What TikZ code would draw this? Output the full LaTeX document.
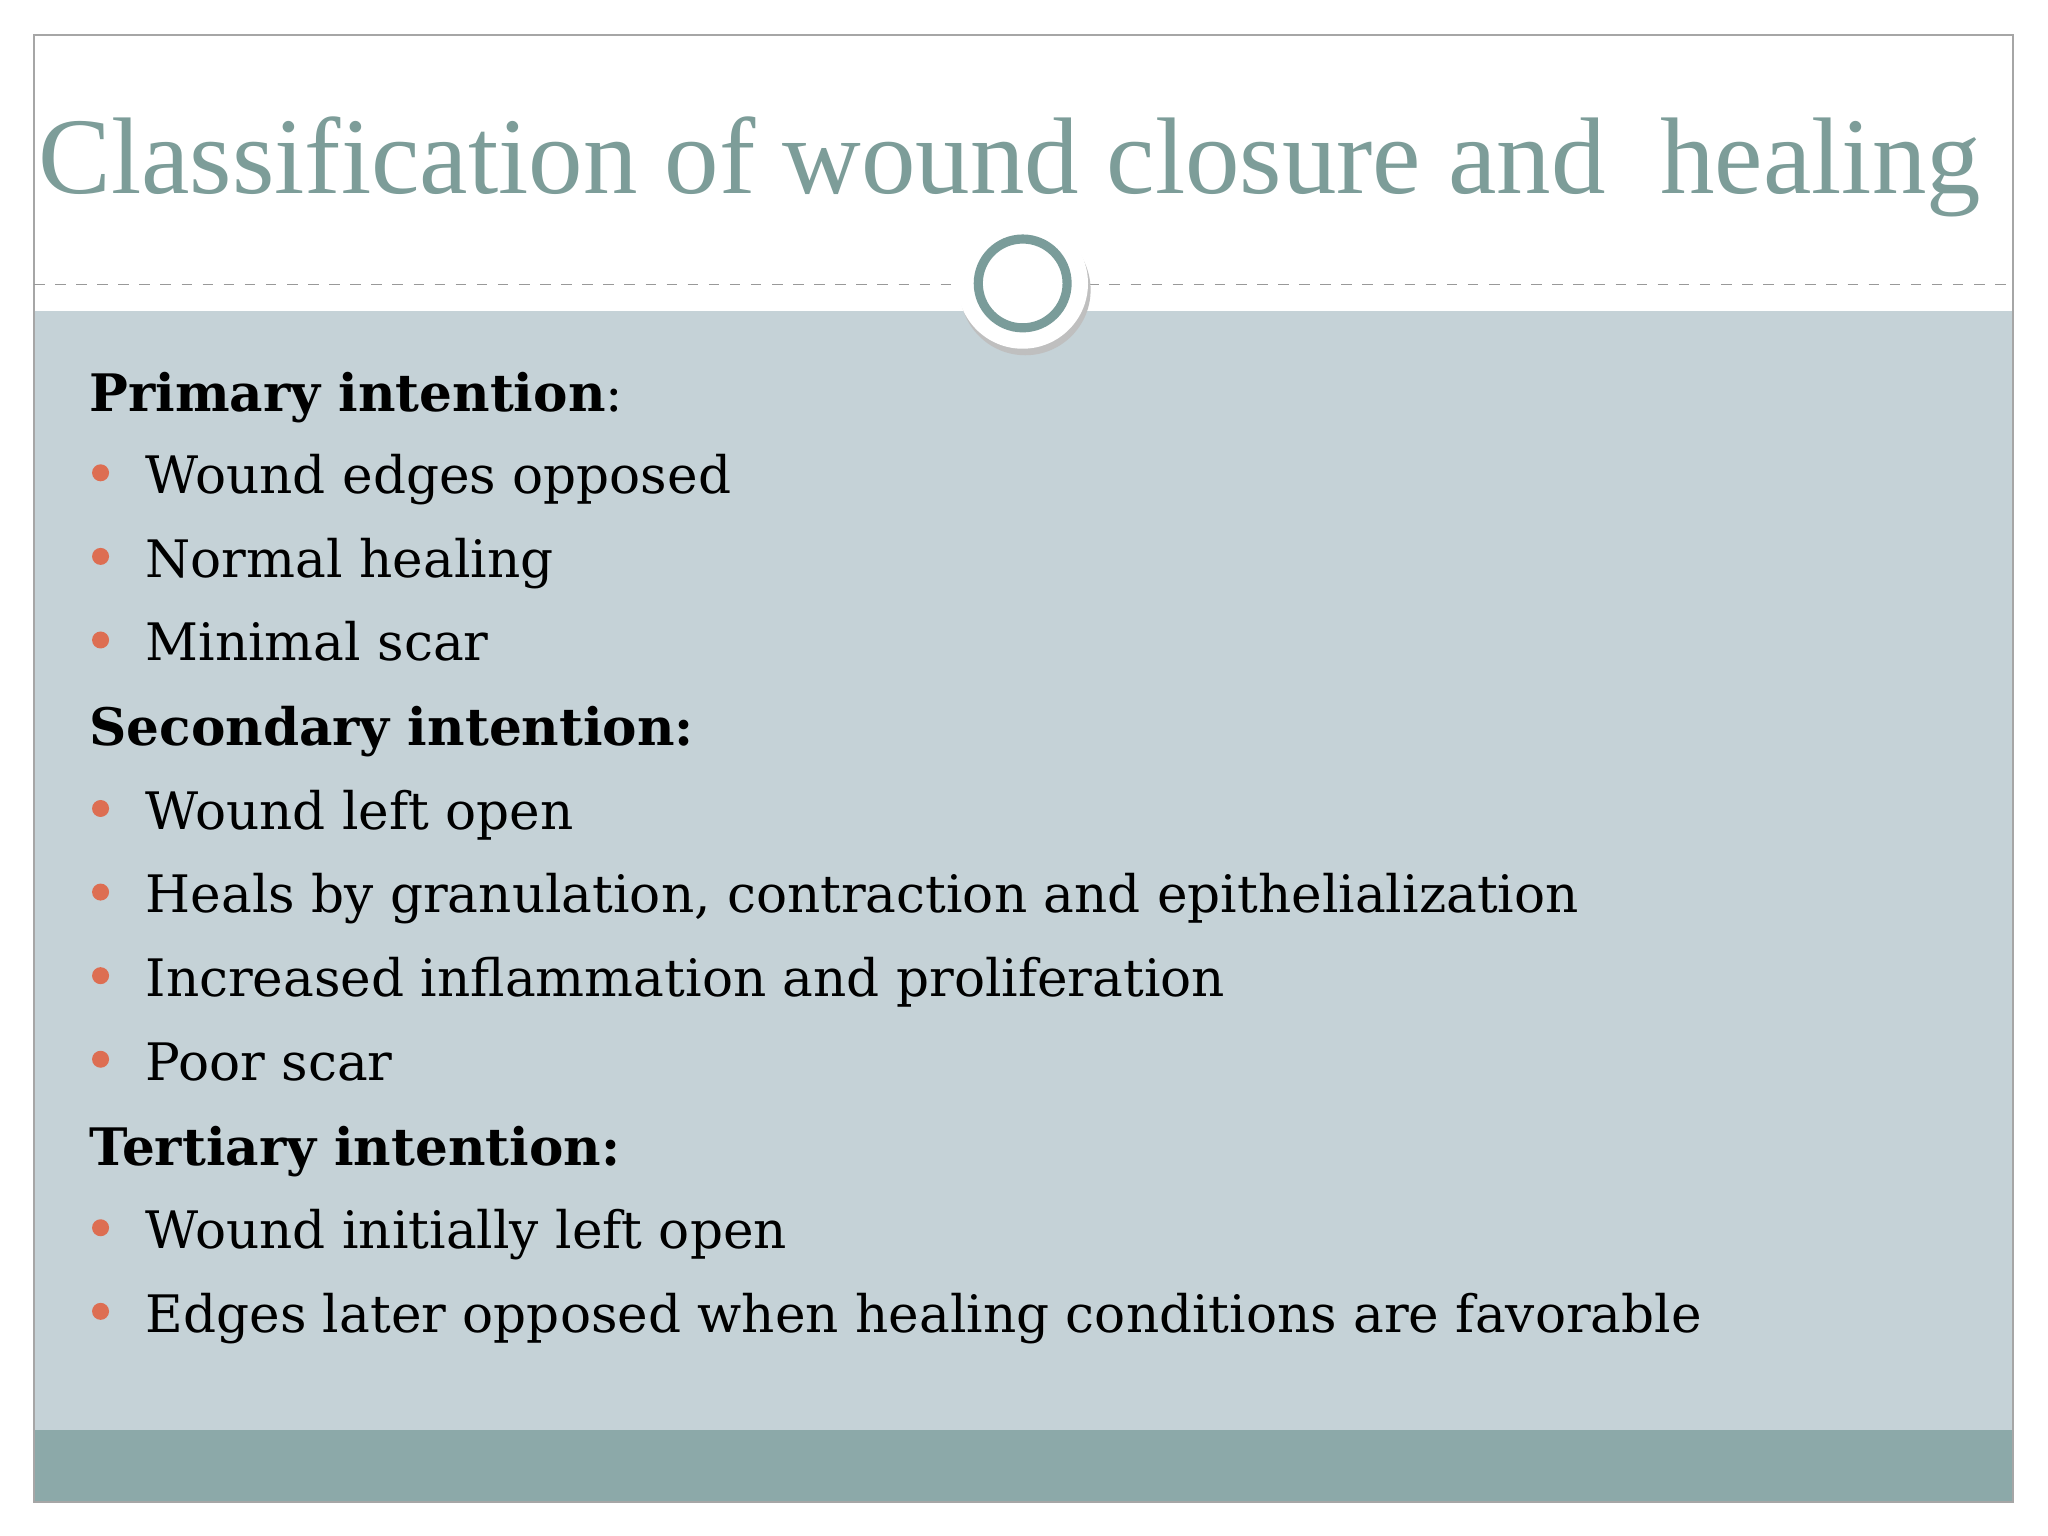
\documentclass[tikz,border=0pt]{standalone}
\usepackage{fontspec}
\setmainfont{DejaVu Serif}
\newfontfamily\ttlfont{Liberation Serif}
\usetikzlibrary{positioning}
\definecolor{band}{HTML}{C5D2D7}
\definecolor{barc}{HTML}{8CA9A9}
\definecolor{ttl}{HTML}{7D9D99}
\definecolor{ring}{HTML}{7A9C9A}
\definecolor{dot}{HTML}{DD6E52}
\begin{document}
\begin{tikzpicture}[x=0.01306cm, y=-0.01306cm,
    head/.style={anchor=base west, inner sep=0pt, font=\fontsize{14.7}{18}\selectfont\bfseries},
    item/.style={anchor=base west, inner sep=0pt, font=\fontsize{14.7}{18}\selectfont},
    bullet/.style={circle, fill=dot, inner sep=0pt, minimum size=0.17cm},
]
    \useasboundingbox (0,0) rectangle (1568,1176);
    \fill[white] (0,0) rectangle (1568,1176);
    % frame and bands
    \fill[band] (26,238) rectangle (1541,1095);
    \fill[barc] (26,1095) rectangle (1541,1150);
    \draw[gray!70, line width=0.6pt] (26,27) rectangle (1541,1150);
    \draw[gray!80, dashed, line width=0.4pt] (26,218) -- (1541,218);
    % title
    \node[anchor=base, inner sep=0pt, text=ttl, font=\ttlfont\fontsize{31}{36}\selectfont] (title) at (773,148) {Classification of wound closure and \ healing};
    % ring
    \fill[black!25] (785,222) circle (50);
    \fill[white] (783,217) circle (50);
    \draw[ring, line width=2.6pt] (783,217) circle (34);
    % body
    \node[head] (prim) at (68,315) {Primary intention\textmd{:}};
    \node[head] (sec) at (68,571) {Secondary intention:};
    \node[head] (ter) at (68,892) {Tertiary intention:};
    \foreach \y/\t [count=\i] in {378/Wound edges opposed, 442/Normal healing, 506/Minimal scar,
        635/Wound left open, 699/{Heals by granulation, contraction and epithelialization},
        763/Increased inflammation and proliferation, 827/Poor scar,
        956/Wound initially left open, 1020/Edges later opposed when healing conditions are favorable} {
        \node[bullet] (b\i) at (77,\y-16) {};
        \node[item] (t\i) at (111,\y) {\t};
    }
\end{tikzpicture}
\end{document}
